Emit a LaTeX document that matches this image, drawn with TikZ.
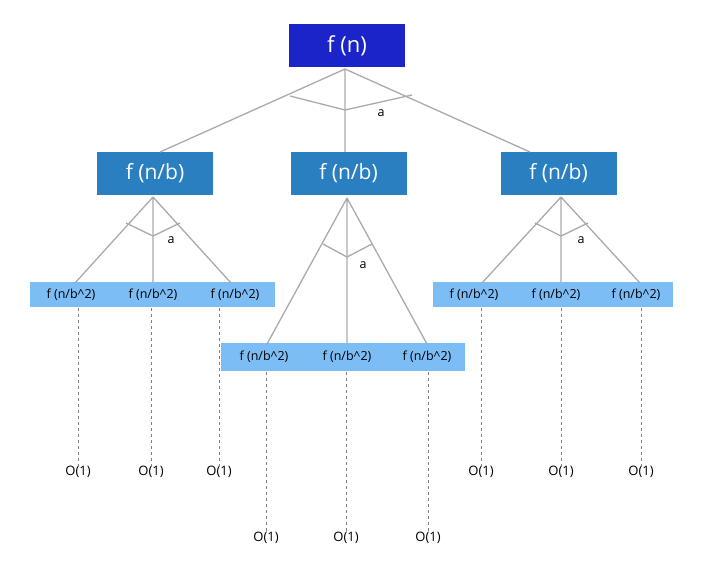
\documentclass[tikz,border=0pt]{standalone}
\usepackage{fontspec}
\setmainfont{Open Sans}
\begin{document}
\begin{tikzpicture}[x=1pt,y=-1pt,
 top/.style={fill={rgb,255:red,26;green,36;blue,200},text=white,minimum width=116pt,minimum height=43pt,font=\fontsize{22}{24}\selectfont,inner sep=0},
 mid/.style={fill={rgb,255:red,42;green,127;blue,192},text=white,minimum width=116pt,minimum height=43pt,font=\fontsize{21}{24}\selectfont,inner sep=0},
 strip/.style={fill={rgb,255:red,125;green,189;blue,245},inner sep=0},
 lbl/.style={font=\fontsize{12.5}{14}\selectfont,inner sep=0},
 ln/.style={draw={rgb,255:red,170;green,170;blue,170},line width=1.3pt},
 dl/.style={draw=gray,dashed,line width=0.8pt},
 o/.style={font=\fontsize{13}{15}\selectfont,inner sep=0}]
\useasboundingbox (0,0) rectangle (705,574);
\node[top] (r) at (347,45.5) {f (n)};
\node[mid] (a1) at (155,173.5) {f (n/b)};
\node[mid] (a2) at (348.5,173.5) {f (n/b)};
\node[mid] (a3) at (558.5,173.5) {f (n/b)};
\coordinate (ra) at (345,69);
\draw[ln] (ra) -- (160,152) (ra) -- (345,152) (ra) -- (530,152);
\draw[ln] (290,96) -- (345,110) -- (412,95);
\node[lbl] (ra1) at (381,113) {a};
% strips
\fill[strip] (30,282) rectangle (275,307);
\fill[strip] (221,343) rectangle (465,371);
\fill[strip] (433,282) rectangle (673,307);
\foreach \n/\x/\y in {l1/71/295,l2/153/295,l3/235/295,m1/264/357,m2/347/357,m3/427/357,r1/474/295,r2/556/295,r3/636/295}
  \node[lbl] (\n) at (\x,\y) {f (n/b\textasciicircum 2)};
% subtrees
\foreach \ax/\ay/\by/\dx in {153/197/283/78, 347/198/344/80, 561/197/283/79}{
  \coordinate (ap) at (\ax,\ay);
  \draw[ln] (ap) -- (\ax-\dx,\by) (ap) -- (\ax,\by) (ap) -- (\ax+\dx,\by);
}
\draw[ln] (126,223) -- (153,236) -- (180,223);
\draw[ln] (323,244) -- (347,257) -- (372,244);
\draw[ln] (535,223) -- (561,236) -- (588,223);
\node[lbl] (aa1) at (171,240) {a};
\node[lbl] (aa2) at (363,265) {a};
\node[lbl] (aa3) at (581,240) {a};
\foreach \x/\n in {78/o1,151/o2,219/o3,481/o7,561/o8,641/o9}{
  \node[o] (\n) at (\x,472) {O(1)};
  \draw[dl] (\x,308) -- (\n.north);}
\foreach \x/\n in {266/o4,346/o5,428/o6}{
  \node[o] (\n) at (\x,538) {O(1)};
  \draw[dl] (\x,372) -- (\n.north);}
\end{tikzpicture}
\end{document}
